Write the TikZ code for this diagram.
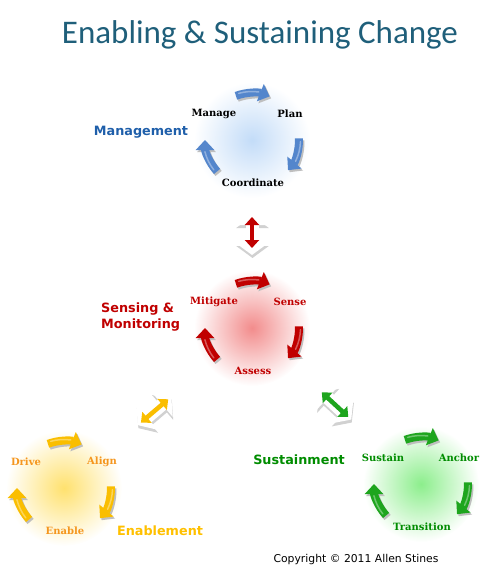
\documentclass[tikz,border=0pt]{standalone}
\usepackage{fontspec}
\setmainfont{DejaVu Serif}
\newfontfamily\titlefont{Carlito}
\newfontfamily\groupfont{DejaVu Sans}
\usetikzlibrary{arrows.meta}

\definecolor{titleteal}{RGB}{31,95,122}
\definecolor{mgmtblue}{RGB}{84,134,204}
\definecolor{mgmtglow}{RGB}{195,220,248}
\definecolor{mgmttext}{RGB}{31,95,170}
\definecolor{sensred}{RGB}{192,0,0}
\definecolor{sensglow}{RGB}{242,140,140}
\definecolor{enabyellow}{RGB}{250,190,0}
\definecolor{enabglow}{RGB}{255,225,110}
\definecolor{enabtext}{RGB}{245,150,30}
\definecolor{enabgroup}{RGB}{255,192,0}
\definecolor{sustgreen}{RGB}{30,165,30}
\definecolor{sustglow}{RGB}{140,238,140}
\definecolor{susttext}{RGB}{0,140,0}

\tikzset{
  cyclabel/.style={font=\bfseries\fontsize{10}{12}\selectfont, inner sep=1pt},
  grouplabel/.style={font=\groupfont\bfseries\fontsize{12.8}{15.5}\selectfont, align=left, inner sep=0pt},
  cycarrow/.style={line width=8pt, -{Triangle[length=10pt,width=18pt]}},
  linkouter/.style={line width=13pt, {Triangle[length=12pt,width=32pt]}-{Triangle[length=12pt,width=32pt]}},
  linkinner/.style={line width=4.5pt, {Triangle[length=8pt,width=14pt]}-{Triangle[length=8pt,width=14pt]}}
}

\begin{document}
\begin{tikzpicture}[x=1pt,y=1pt]
  \useasboundingbox (0,0) rectangle (495,-575);
  % title
  \node[font=\titlefont\fontsize{33}{36}\selectfont, text=titleteal] (title) at (260,-35) {Enabling \& Sustaining Change};

  % cycle centres
  \coordinate (mgmt) at (252,-140);
  \coordinate (sens) at (252,-328);
  \coordinate (enab) at (64,-488);
  \coordinate (sust) at (421,-484);

  % glows
  \foreach \nm/\gc in {mgmt/mgmtglow, sens/sensglow, enab/enabglow, sust/sustglow} {
    \shade[inner color=\gc, outer color=white] (\nm) circle (58);
  }

  % links between cycles
  \foreach \p/\q/\col/\oa/\ob/\ia/\ib in {mgmt/sens/sensred/73/73/77/80,
      sens/enab/enabyellow/106/97/110/101, sens/sust/sustgreen/91/95/95/99} {
    \draw[linkouter, black!18, shorten <=\oa pt, shorten >=\ob pt, transform canvas={shift={(0.5pt,-3pt)}}] (\p) -- (\q);
    \draw[linkouter, white, shorten <=\oa pt, shorten >=\ob pt] (\p) -- (\q);
    \draw[linkinner, \col, shorten <=\ia pt, shorten >=\ib pt] (\p) -- (\q);
  }

  % cycles: arrows and labels
  \foreach \nm/\ac/\tc/\la/\lb/\lc in {mgmt/mgmtblue/black/Manage/Plan/Coordinate,
      sens/sensred/sensred/Mitigate/Sense/Assess,
      enab/enabyellow/enabtext/Drive/Align/Enable,
      sust/sustgreen/susttext/Sustain/Anchor/Transition} {
    \foreach \a/\b in {110/68, 2/-40, 222/180} {
      \draw[cycarrow, black!25] ([shift={(\a:47)},xshift=1.5pt,yshift=-2pt]\nm) arc (\a:\b:47);
      \draw[cycarrow, \ac] ([shift={(\a:47)}]\nm) arc (\a:\b:47);
      \draw[\ac!65!white, line width=1.5pt, line cap=round] ([shift={({\a-4}:48.5)}]\nm) arc ({\a-4}:{\b+14}:48.5);
    }
    \node[cyclabel, text=\tc] (\nm-1) at ([shift={(-38,26)}]\nm) {\la};
    \node[cyclabel, text=\tc] (\nm-2) at ([shift={(38,26)}]\nm) {\lb};
    \node[cyclabel, text=\tc] (\nm-3) at ([shift={(1,-43)}]\nm) {\lc};
  }

  % group labels
  \node[grouplabel, text=mgmttext] (mgmtname) at (141,-132) {Management};
  \node[grouplabel, text=sensred, anchor=west] (sensname) at (101,-317) {Sensing \&\\Monitoring};
  \node[grouplabel, text=susttext] (sustname) at (299,-460) {Sustainment};
  \node[grouplabel, text=enabgroup] (enabname) at (160,-531) {Enablement};

  % copyright
  \node[font=\groupfont\fontsize{10.8}{13}\selectfont] (copy) at (356,-560) {Copyright © 2011 Allen Stines};
\end{tikzpicture}
\end{document}
